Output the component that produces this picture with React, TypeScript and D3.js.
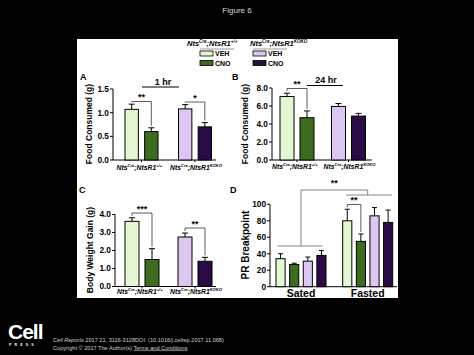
import React from "react";
import * as d3 from "d3";

const groups = ["WT", "KOKO"];
const series = ["VEH", "CNO"];
const colors = { WT: ["#e3f8d2", "#3b6c1f"], KOKO: ["#dcc6f2", "#2b0b45"] };

const aMean = [[1.07, 0.6], [1.08, 0.7]];
const aErr = [[0.11, 0.08], [0.09, 0.09]];
const aTicks = [0, 0.5, 1.0, 1.5];

const bMean = [[7.05, 4.7], [5.95, 4.88]];
const bErr = [[0.37, 0.75], [0.33, 0.3]];
const bTicks = [0, 2, 4, 6, 8];

const cMean = [[3.62, 1.5], [2.75, 1.4]];
const cErr = [[0.2, 0.6], [0.22, 0.22]];
const cTicks = [0, 1, 2, 3, 4];

const dCats = ["Sated", "Fasted"];
const dMean = [[34, 27, 31, 38], [80, 55, 86, 78]];
const dErr = [[6, 1.5, 5, 6], [14, 9, 10, 15]];
const dTicks = [0, 20, 40, 60, 80, 100];

const FONT = "'Liberation Sans', Arial, sans-serif";

function Genotype({ x, y, kind, size, anchor = "middle" }: any) {
  const sup = size * 0.6;
  return (
    <text x={x} y={y} textAnchor={anchor} fontFamily={FONT} fontWeight="bold" fontStyle="italic" fontSize={size} fill="#000">
      Nts
      <tspan fontSize={sup} dy={-size * 0.38}>Cre</tspan>
      <tspan dy={size * 0.38}>;NtsR1</tspan>
      <tspan fontSize={sup} dy={-size * 0.38}>{kind === "WT" ? "+/+" : "KOKO"}</tspan>
    </text>
  );
}

function Bracket({ x1, x2, y, d1, d2, label, ly }: any) {
  return (
    <g stroke="#333" strokeWidth={0.8} fill="none">
      <path d={`M${x1},${d1}V${y}H${x2}V${d2}`} />
      <text x={(x1 + x2) / 2} y={ly} textAnchor="middle" fontFamily={FONT} fontWeight="bold" fontSize={9} fill="#000" stroke="none">{label}</text>
    </g>
  );
}

function YAxis({ x, y, ticks, fmt, fs = 8.3 }: any) {
  const [r0, r1] = y.range();
  return (
    <g>
      <line x1={x} x2={x} y1={r0} y2={r1} stroke="#000" strokeWidth={1} />
      {ticks.map((t: number) => (
        <g key={t}>
          <line x1={x - 3} x2={x} y1={y(t)} y2={y(t)} stroke="#000" strokeWidth={1} />
          <text x={x - 4} y={y(t) + fs * 0.35} textAnchor="end" fontFamily={FONT} fontWeight="bold" fontSize={fs}>{fmt(t)}</text>
        </g>
      ))}
    </g>
  );
}

function makeScales(bandStart: number, step: number, bw: number, inner: number, y0: number, yTop: number, max: number, cats: string[], subs: string[]) {
  const y = d3.scaleLinear().domain([0, max]).range([y0, yTop]);
  const gx = d3.scaleBand().domain(cats).range([bandStart, bandStart + step * (cats.length - 1) + bw]).paddingInner(1 - bw / step).paddingOuter(0);
  const ix = d3.scaleBand().domain(subs).range([0, gx.bandwidth()]).paddingInner(inner);
  const cx = (gi: number, si: number) => gx(cats[gi])! + ix(subs[si])! + ix.bandwidth() / 2;
  return { y, gx, ix, cx };
}

function GroupPanel({ axisX, xEnd, y0, yTop, max, ticks, fmt, means, errs, bandStart, step, bw, inner, title, titleX, titleY, labelY }: any) {
  const { y, gx, ix } = makeScales(bandStart, step, bw, inner, y0, yTop, max, groups, series);
  const cap = 3;
  return (
    <g>
      <YAxis x={axisX} y={y} ticks={ticks} fmt={fmt} />
      <line x1={axisX} x2={xEnd} y1={y0} y2={y0} stroke="#000" strokeWidth={1} />
      {groups.map((g, gi) => (
        <g key={g}>
          <line x1={gx(g)! + gx.bandwidth() / 2} x2={gx(g)! + gx.bandwidth() / 2} y1={y0} y2={y0 + 2} stroke="#000" />
          {series.map((s, si) => {
            const bx = gx(g)! + ix(s)!;
            const cx = bx + ix.bandwidth() / 2;
            const v = means[gi][si];
            const e = errs[gi][si];
            return (
              <g key={s}>
                <line x1={cx} x2={cx} y1={y(v)} y2={y(v + e)} stroke="#000" strokeWidth={1} />
                <line x1={cx - cap} x2={cx + cap} y1={y(v + e)} y2={y(v + e)} stroke="#000" strokeWidth={1} />
                <rect x={bx} y={y(v)} width={ix.bandwidth()} height={y0 - y(v)} fill={(colors as any)[g][si]} stroke="#000" strokeWidth={1} />
              </g>
            );
          })}
          <Genotype x={gx(g)! + gx.bandwidth() / 2 - 25} y={labelY} kind={g} size={6.8} anchor="start" />
        </g>
      ))}
      <text transform={`translate(${titleX},${titleY}) rotate(-90)`} textAnchor="middle" fontFamily={FONT} fontWeight="bold" fontSize={8.5}>{title}</text>
    </g>
  );
}

export default function App() {
  const f1 = (t: number) => t.toFixed(1);
  const f0 = (t: number) => String(t);

  const A = { axisX: 113, y0: 160, yTop: 89, max: 1.5, bandStart: 125, step: 53.5, bw: 33, inner: 0.32 };
  const hA = makeScales(A.bandStart, A.step, A.bw, A.inner, A.y0, A.yTop, A.max, groups, series);
  const B = { axisX: 272, y0: 160, yTop: 88, max: 8, bandStart: 280, step: 51.5, bw: 34, inner: 0.3 };
  const hB = makeScales(B.bandStart, B.step, B.bw, B.inner, B.y0, B.yTop, B.max, groups, series);
  const C = { axisX: 115, y0: 286.5, yTop: 214.5, max: 4, bandStart: 125, step: 53, bw: 34, inner: 0.3 };
  const hC = makeScales(C.bandStart, C.step, C.bw, C.inner, C.y0, C.yTop, C.max, groups, series);

  const subs = ["0", "1", "2", "3"];
  const hD = makeScales(276, 66.7, 50, 0.33, 286.7, 204.3, 100, dCats, subs);
  const dY = hD.y;
  const dColors = [colors.WT[0], colors.WT[1], colors.KOKO[0], colors.KOKO[1]];
  const dcx = hD.cx;
  const dTop = (ci: number, k: number) => dY(dMean[ci][k] + dErr[ci][k]);
  const sMid = (dcx(0, 1) + dcx(0, 2)) / 2;
  const fMid = (dcx(1, 1) + dcx(1, 2)) / 2;

  return (
    <svg width={474} height={355} style={{ position: "absolute", left: 0, top: 0, background: "#000" }}>
      <rect x={0} y={0} width={474} height={355} fill="#000" />
      <text x={237} y={13} textAnchor="middle" fontFamily={FONT} fontSize={8} fill="#d8d8d8">Figure 6</text>
      <rect x={77} y={39} width={321} height={259} fill="#fff" />

      {/* Legend */}
      {groups.map((g, gi) => {
        const lx = gi === 0 ? 200 : 253;
        const hx = gi === 0 ? 187 : 250;
        return (
          <g key={g}>
            <Genotype x={hx} y={46} kind={g} size={7.5} anchor="start" />
            <line x1={lx} x2={lx + 34} y1={49} y2={49} stroke="#555" strokeWidth={0.6} />
            {series.map((s, si) => (
              <g key={s}>
                <rect x={lx} y={51 + si * 9.5} width={13} height={5} fill={(colors as any)[g][si]} stroke="#000" strokeWidth={0.8} />
                <text x={lx + 15} y={56 + si * 9.5} fontFamily={FONT} fontWeight="bold" fontSize={7} fill="#000">{s}</text>
              </g>
            ))}
          </g>
        );
      })}

      <text x={80} y={80} fontFamily={FONT} fontWeight="bold" fontSize={9}>A</text>
      <text x={232} y={80} fontFamily={FONT} fontWeight="bold" fontSize={9}>B</text>
      <text x={79} y={193} fontFamily={FONT} fontWeight="bold" fontSize={9}>C</text>
      <text x={230} y={193} fontFamily={FONT} fontWeight="bold" fontSize={9}>D</text>

      {/* A */}
      <GroupPanel {...A} xEnd={216} ticks={aTicks} fmt={f1} means={aMean} errs={aErr} title="Food Consumed (g)" titleX={92} titleY={124} labelY={170} />
      <text x={163} y={85} textAnchor="middle" fontFamily={FONT} fontWeight="bold" fontSize={9}>1 hr</text>
      <line x1={142} x2={179} y1={87} y2={87} stroke="#000" strokeWidth={1} />
      <Bracket x1={hA.cx(0, 0)} x2={hA.cx(0, 1)} y={101.5} d1={hA.y(aMean[0][0] + aErr[0][0]) - 2} d2={hA.y(aMean[0][1] + aErr[0][1]) - 2} label="**" ly={100} />
      <Bracket x1={hA.cx(1, 0)} x2={hA.cx(1, 1)} y={102} d1={hA.y(aMean[1][0] + aErr[1][0]) - 2} d2={hA.y(aMean[1][1] + aErr[1][1]) - 2} label="*" ly={100.5} />

      {/* B */}
      <GroupPanel {...B} xEnd={372} ticks={bTicks} fmt={f1} means={bMean} errs={bErr} title="Food Consumed (g)" titleX={248} titleY={124} labelY={169} />
      <text x={326} y={83} textAnchor="middle" fontFamily={FONT} fontWeight="bold" fontSize={9}>24 hr</text>
      <line x1={307} x2={343} y1={85.5} y2={85.5} stroke="#000" strokeWidth={1} />
      <Bracket x1={hB.cx(0, 0)} x2={hB.cx(0, 1)} y={88.5} d1={hB.y(bMean[0][0] + bErr[0][0]) - 2} d2={hB.y(bMean[0][1] + bErr[0][1]) - 2} label="**" ly={87} />

      {/* C */}
      <GroupPanel {...C} xEnd={216} ticks={cTicks} fmt={f1} means={cMean} errs={cErr} title="Body Weight Gain (g)" titleX={93} titleY={250} labelY={294} />
      <Bracket x1={hC.cx(0, 0)} x2={hC.cx(0, 1)} y={213} d1={hC.y(cMean[0][0] + cErr[0][0]) - 2} d2={hC.y(cMean[0][1] + cErr[0][1]) - 2} label="***" ly={211.5} />
      <Bracket x1={hC.cx(1, 0)} x2={hC.cx(1, 1)} y={228} d1={hC.y(cMean[1][0] + cErr[1][0]) - 2} d2={hC.y(cMean[1][1] + cErr[1][1]) - 2} label="**" ly={226.5} />

      {/* D */}
      <YAxis x={270} y={dY} ticks={dTicks} fmt={f0} />
      <line x1={270} x2={397} y1={dY(0)} y2={dY(0)} stroke="#000" strokeWidth={1} />
      {dCats.map((c, ci) => (
        <g key={c}>
          {dMean[ci].map((v, k) => {
            const bx = hD.gx(c)! + hD.ix(subs[k])!;
            const cx = dcx(ci, k);
            return (
              <g key={k}>
                <line x1={cx} x2={cx} y1={dY(v)} y2={dY(v + dErr[ci][k])} stroke="#000" strokeWidth={1} />
                <line x1={cx - 2.5} x2={cx + 2.5} y1={dY(v + dErr[ci][k])} y2={dY(v + dErr[ci][k])} stroke="#000" strokeWidth={1} />
                <rect x={bx} y={dY(v)} width={hD.ix.bandwidth()} height={dY(0) - dY(v)} fill={dColors[k]} stroke="#000" strokeWidth={1} />
              </g>
            );
          })}
          <text x={hD.gx(c)! + hD.gx.bandwidth() / 2} y={297} textAnchor="middle" fontFamily={FONT} fontWeight="bold" fontSize={10.5}>{c}</text>
        </g>
      ))}
      <text transform="translate(249,245) rotate(-90)" textAnchor="middle" fontFamily={FONT} fontWeight="bold" fontSize={10}>PR Breakpoint</text>
      <g stroke="#666" strokeWidth={0.8} fill="none">
        <line x1={dcx(0, 0) - 3} x2={dcx(0, 3) + 1} y1={246} y2={246} />
        <line x1={dcx(1, 0) - 1} x2={dcx(1, 3) + 4} y1={195} y2={195} />
        <path d={`M${sMid},246V190H${fMid}V195`} />
      </g>
      <text x={(sMid + fMid) / 2} y={186} textAnchor="middle" fontFamily={FONT} fontWeight="bold" fontSize={9}>**</text>
      <Bracket x1={dcx(1, 0)} x2={dcx(1, 1)} y={204.5} d1={dTop(1, 0) - 2} d2={dTop(1, 1) - 2} label="**" ly={203} />

      {/* Footer */}
      <text x={8} y={339} fontFamily={FONT} fontWeight="bold" fontSize={21} fill="#fff" letterSpacing={-1}>Cell</text>
      <text x={9} y={346} fontFamily={FONT} fontWeight="bold" fontSize={3.5} fill="#fff" letterSpacing={3.2}>PRESS</text>
      <text x={53} y={342} fontFamily={FONT} fontSize={5.6} fill="#cfcfcf">
        <tspan fontStyle="italic">Cell Reports</tspan> 2017 21, 3116-3128DOI: (10.1016/j.celrep.2017.11.068)
      </text>
      <text x={53} y={349.5} fontFamily={FONT} fontSize={5.6} fill="#cfcfcf">
        Copyright © 2017 The Author(s) <tspan textDecoration="underline">Terms and Conditions</tspan>
      </text>
    </svg>
  );
}
